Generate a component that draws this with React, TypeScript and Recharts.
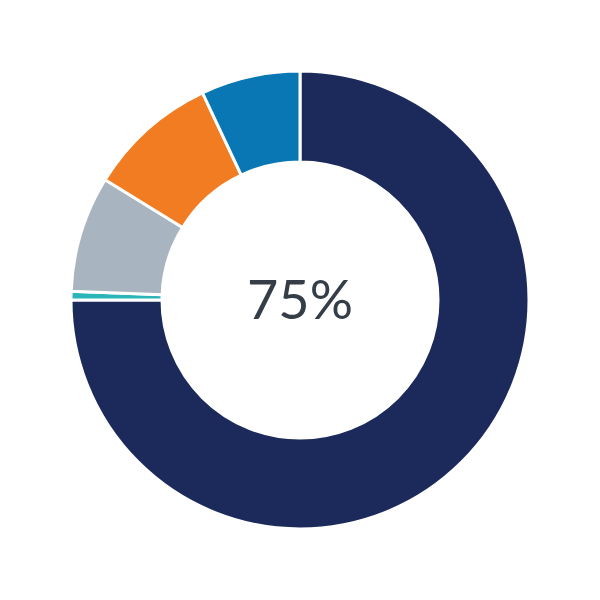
import React from "react";
import { PieChart, Pie, Cell, Label } from "recharts";

const names = ["Navy", "Teal", "Gray", "Orange", "Blue"];
const values = [75, 0.6, 8.2, 9.2, 7.0];
const colors = ["#1b2a5a", "#2cb5b8", "#a9b4c1", "#f27c21", "#0a77b5"];
const centerLabel = "75%";

const data = names.map((name, i) => ({ name, value: values[i] }));

const App: React.FC = () => {
  return (
    <div
      style={{
        position: "absolute",
        left: 0,
        top: 0,
        width: 600,
        height: 600,
        background: "#fff",
      }}
    >
      <PieChart width={600} height={600} margin={{ top: 0, right: 0, bottom: 0, left: 0 }}>
        <Pie
          data={data}
          dataKey="value"
          nameKey="name"
          cx={300}
          cy={300}
          innerRadius={138}
          outerRadius={229}
          startAngle={90}
          endAngle={-270}
          stroke="#ffffff"
          strokeWidth={3}
          isAnimationActive={false}
        >
          {data.map((entry, index) => (
            <Cell key={`cell-${index}`} fill={colors[index]} />
          ))}
          <Label
            value={centerLabel}
            position="center"
            fill="#353d47"
            fontSize={54}
            fontFamily="Lato"
            style={{ fontFamily: "Lato", fontWeight: 400 }}
          />
        </Pie>
      </PieChart>
    </div>
  );
};

export default App;
